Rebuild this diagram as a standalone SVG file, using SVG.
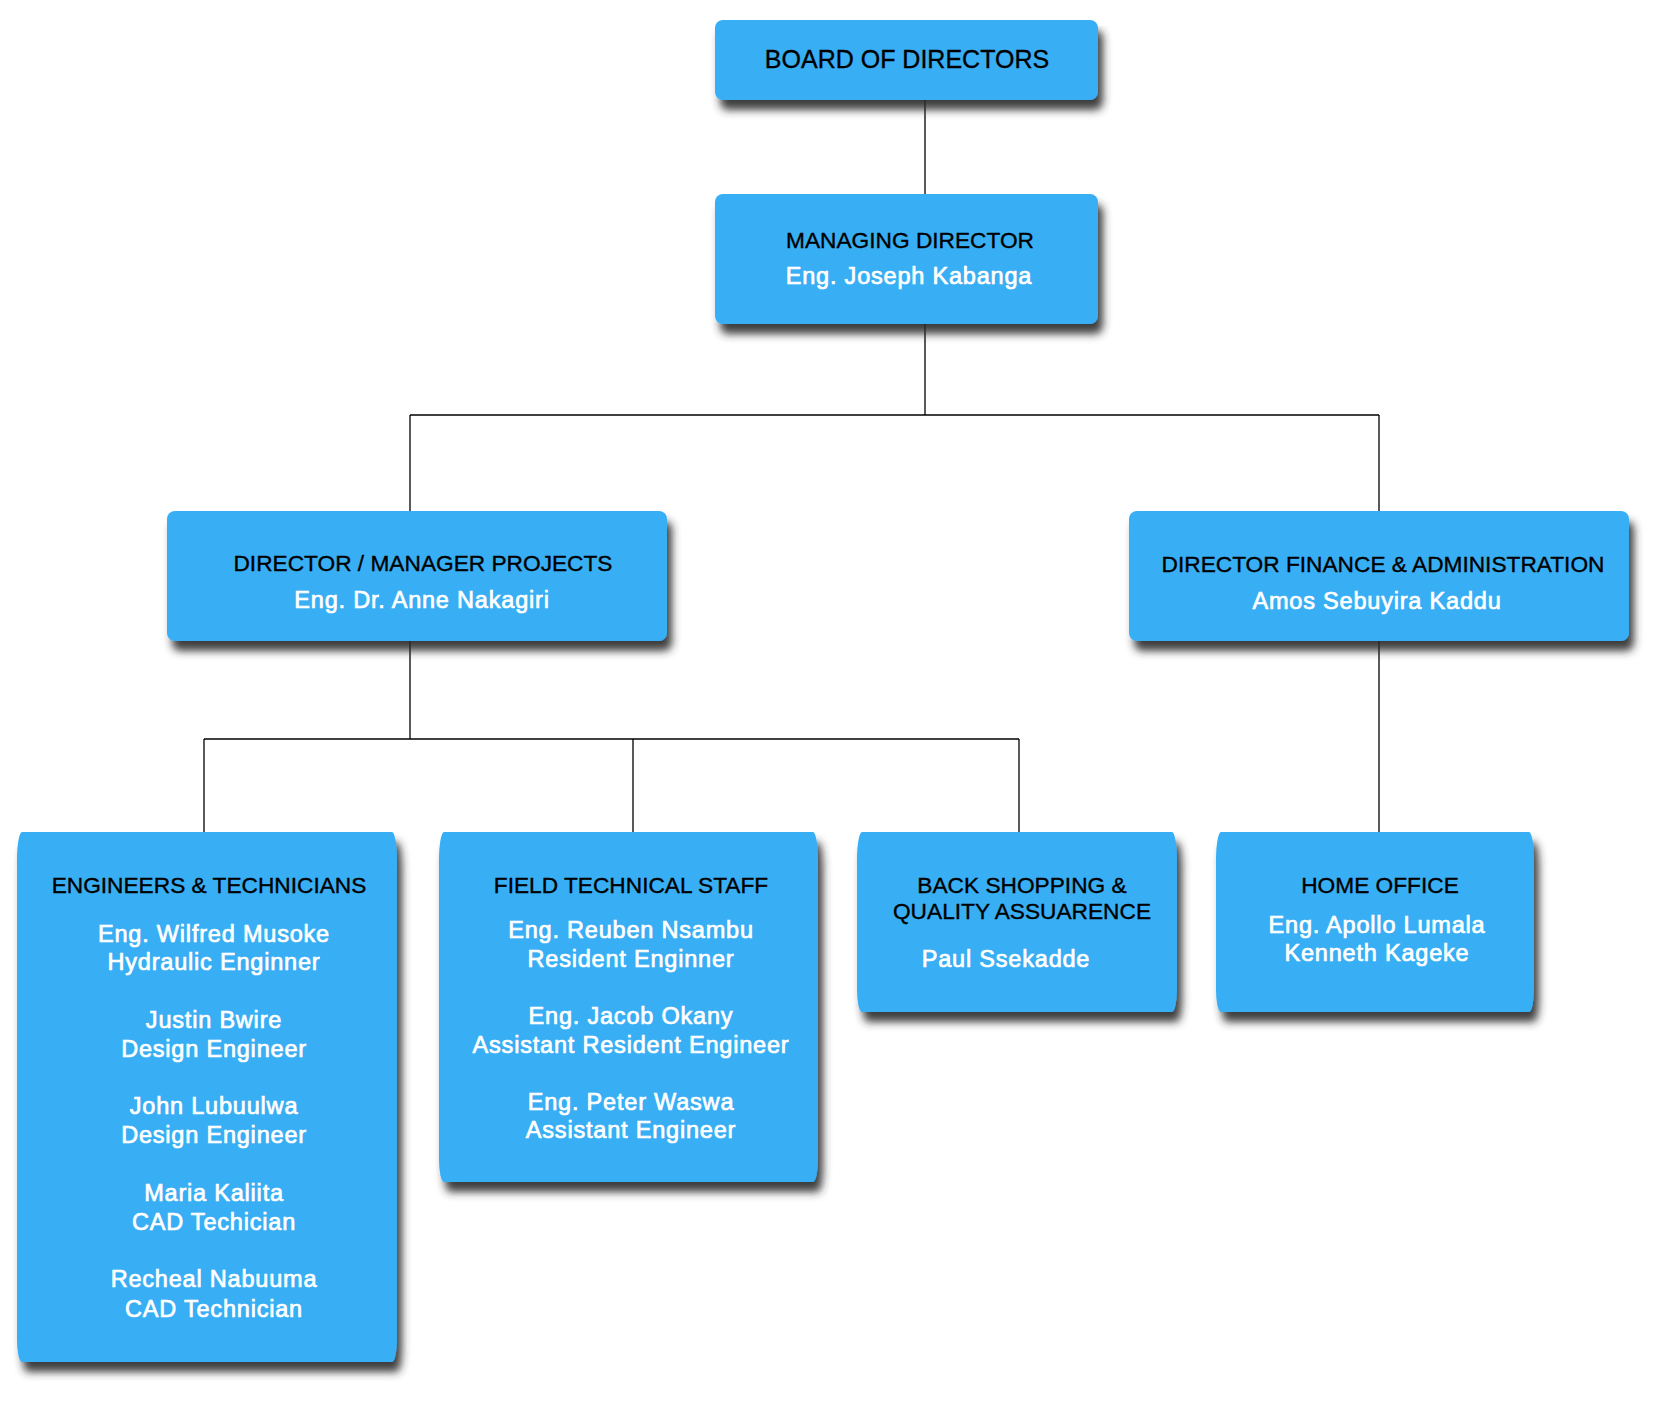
<svg xmlns="http://www.w3.org/2000/svg" width="1676" height="1424" viewBox="0 0 1676 1424">
<defs>
<filter id="sh" x="-5%" y="-5%" width="115%" height="135%">
<feGaussianBlur in="SourceAlpha" stdDeviation="4"/>
<feOffset dx="5" dy="10" result="b"/>
<feFlood flood-color="#2a2a2a" flood-opacity="0.9"/>
<feComposite in2="b" operator="in"/>
<feMerge><feMergeNode/><feMergeNode in="SourceGraphic"/></feMerge>
</filter>
<style>
.box{fill:#37aef4;filter:url(#sh);}
.t{font-family:"Liberation Sans",Arial,sans-serif;font-size:22.7px;fill:#000;stroke:#000;stroke-width:0.35;text-anchor:middle;}
.n{font-family:"Liberation Sans",Arial,sans-serif;font-size:23.5px;fill:#fff;stroke:#fff;stroke-width:0.7;letter-spacing:0.8px;text-anchor:middle;}
.c{stroke:#000;stroke-width:1.3;fill:none;}
</style>
</defs>
<rect width="1676" height="1424" fill="#fff"/>
<g id="connectors">
<path class="c" d="M925 100V194"/>
<path class="c" d="M925 324V415"/>
<path class="c" d="M410 415H1379"/>
<path class="c" d="M410 415V511"/>
<path class="c" d="M1379 415V511"/>
<path class="c" d="M410 641V739"/>
<path class="c" d="M204 739H1019"/>
<path class="c" d="M204 739V832"/>
<path class="c" d="M633 739V832"/>
<path class="c" d="M1019 739V832"/>
<path class="c" d="M1379 641V832"/>
</g>
<g id="board">
<rect class="box" x="715" y="20" width="383" height="80" rx="8"/>
<text class="t" x="907" y="68" style="font-size:25px">BOARD OF DIRECTORS</text>
</g>
<g id="md">
<rect class="box" x="715" y="194" width="383" height="130" rx="8"/>
<text class="t" x="910" y="248">MANAGING DIRECTOR</text>
<text class="n" x="909" y="284">Eng. Joseph Kabanga</text>
</g>
<g id="projects">
<rect class="box" x="167" y="511" width="500" height="130" rx="8"/>
<text class="t" x="423" y="571">DIRECTOR / MANAGER PROJECTS</text>
<text class="n" x="422" y="608">Eng. Dr. Anne Nakagiri</text>
</g>
<g id="finance">
<rect class="box" x="1129" y="511" width="500" height="130" rx="8"/>
<text class="t" x="1383" y="572">DIRECTOR FINANCE &amp; ADMINISTRATION</text>
<text class="n" x="1377" y="609">Amos Sebuyira Kaddu</text>
</g>
<g id="engineers">
<path class="box" d="M22 832H392A5 28 0 0 1 397 860V1340A5 22 0 0 1 392 1362H22A5 22 0 0 1 17 1340V860A5 28 0 0 1 22 832Z"/>
<text class="t" x="209" y="893">ENGINEERS &amp; TECHNICIANS</text>
<text class="n" x="214" y="942">Eng. Wilfred Musoke</text>
<text class="n" x="214" y="970">Hydraulic Enginner</text>
<text class="n" x="214" y="1028">Justin Bwire</text>
<text class="n" x="214" y="1057">Design Engineer</text>
<text class="n" x="214" y="1114">John Lubuulwa</text>
<text class="n" x="214" y="1143">Design Engineer</text>
<text class="n" x="214" y="1201">Maria Kaliita</text>
<text class="n" x="214" y="1230">CAD Techician</text>
<text class="n" x="214" y="1287">Recheal Nabuuma</text>
<text class="n" x="214" y="1317">CAD Technician</text>
</g>
<g id="field">
<path class="box" d="M444 832H813A5 28 0 0 1 818 860V1160A5 22 0 0 1 813 1182H444A5 22 0 0 1 439 1160V860A5 28 0 0 1 444 832Z"/>
<text class="t" x="631" y="893">FIELD TECHNICAL STAFF</text>
<text class="n" x="631" y="938">Eng. Reuben Nsambu</text>
<text class="n" x="631" y="967">Resident Enginner</text>
<text class="n" x="631" y="1024">Eng. Jacob Okany</text>
<text class="n" x="631" y="1053">Assistant Resident Engineer</text>
<text class="n" x="631" y="1110">Eng. Peter Waswa</text>
<text class="n" x="631" y="1138">Assistant Engineer</text>
</g>
<g id="backshopping">
<path class="box" d="M862 832H1172A5 28 0 0 1 1177 860V990A5 22 0 0 1 1172 1012H862A5 22 0 0 1 857 990V860A5 28 0 0 1 862 832Z"/>
<text class="t" x="1022" y="893">BACK SHOPPING &amp;</text>
<text class="t" x="1022" y="919">QUALITY ASSUARENCE</text>
<text class="n" x="1006" y="967">Paul Ssekadde</text>
</g>
<g id="home">
<path class="box" d="M1221 832H1529A5 28 0 0 1 1534 860V990A5 22 0 0 1 1529 1012H1221A5 22 0 0 1 1216 990V860A5 28 0 0 1 1221 832Z"/>
<text class="t" x="1380" y="893">HOME OFFICE</text>
<text class="n" x="1377" y="933">Eng. Apollo Lumala</text>
<text class="n" x="1377" y="961">Kenneth Kageke</text>
</g>
</svg>
